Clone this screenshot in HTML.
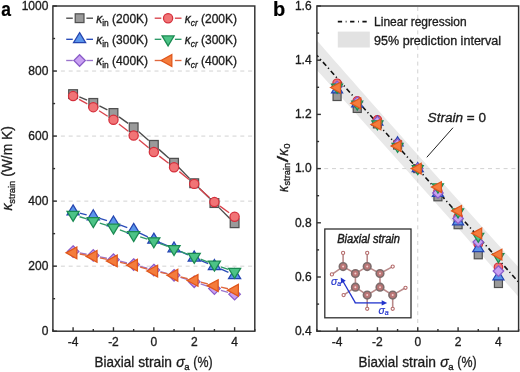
<!DOCTYPE html>
<html><head><meta charset="utf-8"><title>Strain thermal conductivity</title>
<style>html,body{margin:0;padding:0;background:#fff;width:520px;height:372px;overflow:hidden}svg{display:block}text{stroke:#1c1c1c;stroke-width:.32px}text.bl{stroke:#2233cc;stroke-width:.2px}text.pl{stroke:#000;stroke-width:.2px}</style>
</head><body>
<svg width="520" height="372" viewBox="0 0 520 372" font-family="'Liberation Sans', Arial, sans-serif">
<rect width="520" height="372" fill="#ffffff"/>
<line x1="52.9" y1="266.16" x2="254.8" y2="266.16" stroke="#d2d2d2" stroke-width="1" stroke-dasharray="4 3.8" stroke-dashoffset="-0.2"/>
<line x1="52.9" y1="201.12" x2="254.8" y2="201.12" stroke="#d2d2d2" stroke-width="1" stroke-dasharray="4 3.8" stroke-dashoffset="-0.2"/>
<line x1="52.9" y1="136.08" x2="254.8" y2="136.08" stroke="#d2d2d2" stroke-width="1" stroke-dasharray="4 3.8" stroke-dashoffset="-0.2"/>
<line x1="52.9" y1="71.04" x2="254.8" y2="71.04" stroke="#d2d2d2" stroke-width="1" stroke-dasharray="4 3.8" stroke-dashoffset="-0.2"/>
<line x1="79.33" y1="96.84" x2="87.04" y2="100.2" stroke="#4a4a4a" stroke-width="1.35"/><line x1="99.36" y1="105.95" x2="107.39" y2="109.95" stroke="#4a4a4a" stroke-width="1.35"/><line x1="119.02" y1="116.92" x2="128.11" y2="123.37" stroke="#4a4a4a" stroke-width="1.35"/><line x1="138.79" y1="131.76" x2="148.72" y2="140.4" stroke="#4a4a4a" stroke-width="1.35"/><line x1="158.94" y1="149.37" x2="168.95" y2="158.24" stroke="#4a4a4a" stroke-width="1.35"/><line x1="178.81" y1="167.59" x2="189.46" y2="178.39" stroke="#4a4a4a" stroke-width="1.35"/><line x1="199.08" y1="188" x2="209.57" y2="198.31" stroke="#4a4a4a" stroke-width="1.35"/><line x1="219.23" y1="207.88" x2="229.8" y2="218.43" stroke="#4a4a4a" stroke-width="1.35"/>
<line x1="79.05" y1="99.35" x2="87.32" y2="103.87" stroke="#d9434b" stroke-width="1.35"/><line x1="99.04" y1="110.75" x2="107.71" y2="116.2" stroke="#d9434b" stroke-width="1.35"/><line x1="118.85" y1="123.98" x2="128.28" y2="131.27" stroke="#d9434b" stroke-width="1.35"/><line x1="138.91" y1="139.75" x2="148.6" y2="147.7" stroke="#d9434b" stroke-width="1.35"/><line x1="159.27" y1="156.12" x2="168.62" y2="163.19" stroke="#d9434b" stroke-width="1.35"/><line x1="179.29" y1="171.62" x2="188.98" y2="179.57" stroke="#d9434b" stroke-width="1.35"/><line x1="199.28" y1="188.44" x2="209.37" y2="197.54" stroke="#d9434b" stroke-width="1.35"/><line x1="219.93" y1="206.09" x2="229.1" y2="212.74" stroke="#d9434b" stroke-width="1.35"/>
<line x1="79.7" y1="213.12" x2="86.67" y2="214.81" stroke="#2a4cb8" stroke-width="1.35"/><line x1="99.78" y1="218.39" x2="106.97" y2="220.59" stroke="#2a4cb8" stroke-width="1.35"/><line x1="119.85" y1="224.95" x2="127.28" y2="227.7" stroke="#2a4cb8" stroke-width="1.35"/><line x1="139.78" y1="233.02" x2="147.73" y2="236.86" stroke="#2a4cb8" stroke-width="1.35"/><line x1="160.09" y1="242.53" x2="167.8" y2="245.89" stroke="#2a4cb8" stroke-width="1.35"/><line x1="180.24" y1="251.39" x2="188.03" y2="254.91" stroke="#2a4cb8" stroke-width="1.35"/><line x1="200.5" y1="260.33" x2="208.15" y2="263.53" stroke="#2a4cb8" stroke-width="1.35"/><line x1="220.62" y1="268.96" x2="228.41" y2="272.47" stroke="#2a4cb8" stroke-width="1.35"/>
<line x1="79.59" y1="216.77" x2="86.78" y2="218.97" stroke="#2f9a68" stroke-width="1.35"/><line x1="99.75" y1="223.04" x2="107" y2="225.38" stroke="#2f9a68" stroke-width="1.35"/><line x1="119.85" y1="229.82" x2="127.28" y2="232.58" stroke="#2f9a68" stroke-width="1.35"/><line x1="140.16" y1="236.93" x2="147.35" y2="239.13" stroke="#2f9a68" stroke-width="1.35"/><line x1="160.19" y1="243.57" x2="167.7" y2="246.47" stroke="#2f9a68" stroke-width="1.35"/><line x1="180.38" y1="251.38" x2="187.89" y2="254.28" stroke="#2f9a68" stroke-width="1.35"/><line x1="200.57" y1="259.18" x2="208.08" y2="262.08" stroke="#2f9a68" stroke-width="1.35"/><line x1="220.83" y1="266.81" x2="228.2" y2="269.42" stroke="#2f9a68" stroke-width="1.35"/>
<line x1="79.77" y1="252.82" x2="86.6" y2="254.14" stroke="#9a74cc" stroke-width="1.35"/><line x1="99.94" y1="256.82" x2="106.81" y2="258.26" stroke="#9a74cc" stroke-width="1.35"/><line x1="120.08" y1="261.25" x2="127.05" y2="262.94" stroke="#9a74cc" stroke-width="1.35"/><line x1="140.22" y1="266.33" x2="147.29" y2="268.27" stroke="#9a74cc" stroke-width="1.35"/><line x1="160.43" y1="271.76" x2="167.46" y2="273.57" stroke="#9a74cc" stroke-width="1.35"/><line x1="180.51" y1="277.35" x2="187.76" y2="279.68" stroke="#9a74cc" stroke-width="1.35"/><line x1="200.67" y1="283.95" x2="207.98" y2="286.42" stroke="#9a74cc" stroke-width="1.35"/><line x1="220.98" y1="290.39" x2="228.05" y2="292.33" stroke="#9a74cc" stroke-width="1.35"/>
<line x1="79.79" y1="254.01" x2="86.58" y2="255.22" stroke="#e0683e" stroke-width="1.35"/><line x1="99.91" y1="257.9" x2="106.84" y2="259.46" stroke="#e0683e" stroke-width="1.35"/><line x1="120.13" y1="262.35" x2="127" y2="263.79" stroke="#e0683e" stroke-width="1.35"/><line x1="140.19" y1="267.08" x2="147.32" y2="269.14" stroke="#e0683e" stroke-width="1.35"/><line x1="160.51" y1="272.43" x2="167.38" y2="273.87" stroke="#e0683e" stroke-width="1.35"/><line x1="180.62" y1="276.96" x2="187.65" y2="278.77" stroke="#e0683e" stroke-width="1.35"/><line x1="200.81" y1="282.17" x2="207.84" y2="283.98" stroke="#e0683e" stroke-width="1.35"/><line x1="221.05" y1="287.17" x2="227.98" y2="288.73" stroke="#e0683e" stroke-width="1.35"/>
<rect x="68.72" y="89.76" width="8.74" height="8.74" fill="#9a9a9a" stroke="#505050" stroke-width="1.25"/>
<rect x="88.91" y="98.54" width="8.74" height="8.74" fill="#9a9a9a" stroke="#505050" stroke-width="1.25"/>
<rect x="109.1" y="108.62" width="8.74" height="8.74" fill="#9a9a9a" stroke="#505050" stroke-width="1.25"/>
<rect x="129.29" y="122.93" width="8.74" height="8.74" fill="#9a9a9a" stroke="#505050" stroke-width="1.25"/>
<rect x="149.48" y="140.49" width="8.74" height="8.74" fill="#9a9a9a" stroke="#505050" stroke-width="1.25"/>
<rect x="169.67" y="158.38" width="8.74" height="8.74" fill="#9a9a9a" stroke="#505050" stroke-width="1.25"/>
<rect x="189.86" y="178.87" width="8.74" height="8.74" fill="#9a9a9a" stroke="#505050" stroke-width="1.25"/>
<rect x="210.05" y="198.7" width="8.74" height="8.74" fill="#9a9a9a" stroke="#505050" stroke-width="1.25"/>
<rect x="230.24" y="218.87" width="8.74" height="8.74" fill="#9a9a9a" stroke="#505050" stroke-width="1.25"/>
<circle cx="73.09" cy="96.08" r="4.61" fill="#f17476" stroke="#d4303c" stroke-width="1.25"/>
<circle cx="93.28" cy="107.14" r="4.61" fill="#f17476" stroke="#d4303c" stroke-width="1.25"/>
<circle cx="113.47" cy="119.82" r="4.61" fill="#f17476" stroke="#d4303c" stroke-width="1.25"/>
<circle cx="133.66" cy="135.43" r="4.61" fill="#f17476" stroke="#d4303c" stroke-width="1.25"/>
<circle cx="153.85" cy="152.01" r="4.61" fill="#f17476" stroke="#d4303c" stroke-width="1.25"/>
<circle cx="174.04" cy="167.3" r="4.61" fill="#f17476" stroke="#d4303c" stroke-width="1.25"/>
<circle cx="194.23" cy="183.88" r="4.61" fill="#f17476" stroke="#d4303c" stroke-width="1.25"/>
<circle cx="214.42" cy="202.1" r="4.61" fill="#f17476" stroke="#d4303c" stroke-width="1.25"/>
<circle cx="234.61" cy="216.73" r="4.61" fill="#f17476" stroke="#d4303c" stroke-width="1.25"/>
<polygon points="73.09,204.9 79.14,214.89 67.04,214.89" fill="#5b95ea" stroke="#2444b0" stroke-width="1.25" stroke-linejoin="miter"/>
<polygon points="93.28,209.78 99.33,219.76 87.23,219.76" fill="#5b95ea" stroke="#2444b0" stroke-width="1.25" stroke-linejoin="miter"/>
<polygon points="113.47,215.96 119.52,225.94 107.42,225.94" fill="#5b95ea" stroke="#2444b0" stroke-width="1.25" stroke-linejoin="miter"/>
<polygon points="133.66,223.44 139.71,233.42 127.61,233.42" fill="#5b95ea" stroke="#2444b0" stroke-width="1.25" stroke-linejoin="miter"/>
<polygon points="153.85,233.19 159.9,243.18 147.8,243.18" fill="#5b95ea" stroke="#2444b0" stroke-width="1.25" stroke-linejoin="miter"/>
<polygon points="174.04,241.98 180.09,251.96 167.99,251.96" fill="#5b95ea" stroke="#2444b0" stroke-width="1.25" stroke-linejoin="miter"/>
<polygon points="194.23,251.08 200.28,261.06 188.18,261.06" fill="#5b95ea" stroke="#2444b0" stroke-width="1.25" stroke-linejoin="miter"/>
<polygon points="214.42,259.54 220.47,269.52 208.37,269.52" fill="#5b95ea" stroke="#2444b0" stroke-width="1.25" stroke-linejoin="miter"/>
<polygon points="234.61,268.64 240.66,278.63 228.56,278.63" fill="#5b95ea" stroke="#2444b0" stroke-width="1.25" stroke-linejoin="miter"/>
<polygon points="73.09,221.4 79.14,211.42 67.04,211.42" fill="#4cc386" stroke="#1b8a52" stroke-width="1.25" stroke-linejoin="miter"/>
<polygon points="93.28,227.58 99.33,217.6 87.23,217.6" fill="#4cc386" stroke="#1b8a52" stroke-width="1.25" stroke-linejoin="miter"/>
<polygon points="113.47,234.09 119.52,224.1 107.42,224.1" fill="#4cc386" stroke="#1b8a52" stroke-width="1.25" stroke-linejoin="miter"/>
<polygon points="133.66,241.56 139.71,231.58 127.61,231.58" fill="#4cc386" stroke="#1b8a52" stroke-width="1.25" stroke-linejoin="miter"/>
<polygon points="153.85,247.74 159.9,237.76 147.8,237.76" fill="#4cc386" stroke="#1b8a52" stroke-width="1.25" stroke-linejoin="miter"/>
<polygon points="174.04,255.55 180.09,245.56 167.99,245.56" fill="#4cc386" stroke="#1b8a52" stroke-width="1.25" stroke-linejoin="miter"/>
<polygon points="194.23,263.35 200.28,253.37 188.18,253.37" fill="#4cc386" stroke="#1b8a52" stroke-width="1.25" stroke-linejoin="miter"/>
<polygon points="214.42,271.16 220.47,261.17 208.37,261.17" fill="#4cc386" stroke="#1b8a52" stroke-width="1.25" stroke-linejoin="miter"/>
<polygon points="234.61,278.31 240.66,268.33 228.56,268.33" fill="#4cc386" stroke="#1b8a52" stroke-width="1.25" stroke-linejoin="miter"/>
<polygon points="73.09,245.77 78.85,251.53 73.09,257.29 67.33,251.53" fill="#c9a0f2" stroke="#8a5cc8" stroke-width="1.25" stroke-linejoin="miter"/>
<polygon points="93.28,249.67 99.04,255.43 93.28,261.19 87.52,255.43" fill="#c9a0f2" stroke="#8a5cc8" stroke-width="1.25" stroke-linejoin="miter"/>
<polygon points="113.47,253.9 119.23,259.66 113.47,265.42 107.71,259.66" fill="#c9a0f2" stroke="#8a5cc8" stroke-width="1.25" stroke-linejoin="miter"/>
<polygon points="133.66,258.77 139.42,264.53 133.66,270.29 127.9,264.53" fill="#c9a0f2" stroke="#8a5cc8" stroke-width="1.25" stroke-linejoin="miter"/>
<polygon points="153.85,264.3 159.61,270.06 153.85,275.82 148.09,270.06" fill="#c9a0f2" stroke="#8a5cc8" stroke-width="1.25" stroke-linejoin="miter"/>
<polygon points="174.04,269.51 179.8,275.27 174.04,281.03 168.28,275.27" fill="#c9a0f2" stroke="#8a5cc8" stroke-width="1.25" stroke-linejoin="miter"/>
<polygon points="194.23,276.01 199.99,281.77 194.23,287.53 188.47,281.77" fill="#c9a0f2" stroke="#8a5cc8" stroke-width="1.25" stroke-linejoin="miter"/>
<polygon points="214.42,282.84 220.18,288.6 214.42,294.36 208.66,288.6" fill="#c9a0f2" stroke="#8a5cc8" stroke-width="1.25" stroke-linejoin="miter"/>
<polygon points="234.61,288.37 240.37,294.13 234.61,299.89 228.85,294.13" fill="#c9a0f2" stroke="#8a5cc8" stroke-width="1.25" stroke-linejoin="miter"/>
<polygon points="65.99,252.83 76.83,246.97 76.83,258.68" fill="#f47c3c" stroke="#e0561a" stroke-width="1.25" stroke-linejoin="miter"/>
<polygon points="86.18,256.4 97.02,250.55 97.02,262.26" fill="#f47c3c" stroke="#e0561a" stroke-width="1.25" stroke-linejoin="miter"/>
<polygon points="106.37,260.96 117.21,255.1 117.21,266.81" fill="#f47c3c" stroke="#e0561a" stroke-width="1.25" stroke-linejoin="miter"/>
<polygon points="126.56,265.18 137.4,259.33 137.4,271.04" fill="#f47c3c" stroke="#e0561a" stroke-width="1.25" stroke-linejoin="miter"/>
<polygon points="146.75,271.04 157.59,265.18 157.59,276.89" fill="#f47c3c" stroke="#e0561a" stroke-width="1.25" stroke-linejoin="miter"/>
<polygon points="166.94,275.27 177.78,269.41 177.78,281.12" fill="#f47c3c" stroke="#e0561a" stroke-width="1.25" stroke-linejoin="miter"/>
<polygon points="187.13,280.47 197.97,274.61 197.97,286.32" fill="#f47c3c" stroke="#e0561a" stroke-width="1.25" stroke-linejoin="miter"/>
<polygon points="207.32,285.67 218.16,279.82 218.16,291.53" fill="#f47c3c" stroke="#e0561a" stroke-width="1.25" stroke-linejoin="miter"/>
<polygon points="227.51,290.22 238.35,284.37 238.35,296.08" fill="#f47c3c" stroke="#e0561a" stroke-width="1.25" stroke-linejoin="miter"/>
<rect x="52.9" y="6" width="201.9" height="325.2" fill="none" stroke="#303030" stroke-width="1.45"/>
<line x1="52.9" y1="331.2" x2="56.9" y2="331.2" stroke="#303030" stroke-width="1.4"/>
<line x1="52.9" y1="298.68" x2="55.1" y2="298.68" stroke="#303030" stroke-width="1.4"/>
<line x1="52.9" y1="266.16" x2="56.9" y2="266.16" stroke="#303030" stroke-width="1.4"/>
<line x1="52.9" y1="233.64" x2="55.1" y2="233.64" stroke="#303030" stroke-width="1.4"/>
<line x1="52.9" y1="201.12" x2="56.9" y2="201.12" stroke="#303030" stroke-width="1.4"/>
<line x1="52.9" y1="168.6" x2="55.1" y2="168.6" stroke="#303030" stroke-width="1.4"/>
<line x1="52.9" y1="136.08" x2="56.9" y2="136.08" stroke="#303030" stroke-width="1.4"/>
<line x1="52.9" y1="103.56" x2="55.1" y2="103.56" stroke="#303030" stroke-width="1.4"/>
<line x1="52.9" y1="71.04" x2="56.9" y2="71.04" stroke="#303030" stroke-width="1.4"/>
<line x1="52.9" y1="38.52" x2="55.1" y2="38.52" stroke="#303030" stroke-width="1.4"/>
<line x1="52.9" y1="6" x2="56.9" y2="6" stroke="#303030" stroke-width="1.4"/>
<line x1="52.9" y1="331.2" x2="52.9" y2="329" stroke="#303030" stroke-width="1.4"/>
<line x1="73.09" y1="331.2" x2="73.09" y2="327.2" stroke="#303030" stroke-width="1.4"/>
<line x1="93.28" y1="331.2" x2="93.28" y2="329" stroke="#303030" stroke-width="1.4"/>
<line x1="113.47" y1="331.2" x2="113.47" y2="327.2" stroke="#303030" stroke-width="1.4"/>
<line x1="133.66" y1="331.2" x2="133.66" y2="329" stroke="#303030" stroke-width="1.4"/>
<line x1="153.85" y1="331.2" x2="153.85" y2="327.2" stroke="#303030" stroke-width="1.4"/>
<line x1="174.04" y1="331.2" x2="174.04" y2="329" stroke="#303030" stroke-width="1.4"/>
<line x1="194.23" y1="331.2" x2="194.23" y2="327.2" stroke="#303030" stroke-width="1.4"/>
<line x1="214.42" y1="331.2" x2="214.42" y2="329" stroke="#303030" stroke-width="1.4"/>
<line x1="234.61" y1="331.2" x2="234.61" y2="327.2" stroke="#303030" stroke-width="1.4"/>
<line x1="254.8" y1="331.2" x2="254.8" y2="329" stroke="#303030" stroke-width="1.4"/>
<text x="48.4" y="335" font-size="12" text-anchor="end" fill="#1c1c1c">0</text>
<text x="48.4" y="269.96" font-size="12" text-anchor="end" fill="#1c1c1c">200</text>
<text x="48.4" y="204.92" font-size="12" text-anchor="end" fill="#1c1c1c">400</text>
<text x="48.4" y="139.88" font-size="12" text-anchor="end" fill="#1c1c1c">600</text>
<text x="48.4" y="74.84" font-size="12" text-anchor="end" fill="#1c1c1c">800</text>
<text x="48.4" y="9.8" font-size="12" text-anchor="end" fill="#1c1c1c">1000</text>
<text x="73.09" y="346.1" font-size="12" text-anchor="middle" fill="#1c1c1c">-4</text>
<text x="113.47" y="346.1" font-size="12" text-anchor="middle" fill="#1c1c1c">-2</text>
<text x="153.85" y="346.1" font-size="12" text-anchor="middle" fill="#1c1c1c">0</text>
<text x="194.23" y="346.1" font-size="12" text-anchor="middle" fill="#1c1c1c">2</text>
<text x="234.61" y="346.1" font-size="12" text-anchor="middle" fill="#1c1c1c">4</text>
<text y="367.2" font-size="14" fill="#1c1c1c"><tspan x="94.6" textLength="39.6" lengthAdjust="spacingAndGlyphs">Biaxial</tspan> <tspan x="138.2" textLength="33.8" lengthAdjust="spacingAndGlyphs">strain</tspan> <tspan x="176.3" font-style="italic">σ</tspan><tspan x="184.2" font-size="9.6" dy="3.2">a</tspan> <tspan x="193.3" dy="-3.2" textLength="19.3" lengthAdjust="spacingAndGlyphs">(%)</tspan></text>
<text transform="translate(12.3,210.6) rotate(-90)" font-size="14" textLength="84.5" lengthAdjust="spacingAndGlyphs" fill="#1c1c1c"><tspan font-style="italic">κ</tspan><tspan font-size="9.5" dy="2.6">strain</tspan><tspan dy="-2.6"> (W/m K)</tspan></text>
<text x="1.2" y="16" font-size="20" font-weight="bold" class="pl" fill="#000" textLength="9.7" lengthAdjust="spacingAndGlyphs">a</text>
<line x1="66.2" y1="18.2" x2="72.8" y2="18.2" stroke="#4a4a4a" stroke-width="1.35"/>
<line x1="86.4" y1="18.2" x2="93" y2="18.2" stroke="#4a4a4a" stroke-width="1.35"/>
<rect x="75.23" y="13.83" width="8.74" height="8.74" fill="#9a9a9a" stroke="#505050" stroke-width="1.25"/>
<text x="96.2" y="22.8" font-size="12" fill="#1c1c1c"><tspan font-style="italic">κ</tspan><tspan font-size="8.4" dy="3.3">in</tspan><tspan dy="-3.3"> (200K)</tspan></text>
<line x1="154.7" y1="18.2" x2="161.3" y2="18.2" stroke="#d9434b" stroke-width="1.35"/>
<line x1="174.9" y1="18.2" x2="181.5" y2="18.2" stroke="#d9434b" stroke-width="1.35"/>
<circle cx="168.1" cy="18.2" r="4.61" fill="#f17476" stroke="#d4303c" stroke-width="1.25"/>
<text x="184.7" y="22.8" font-size="12" fill="#1c1c1c"><tspan font-style="italic">κ</tspan><tspan font-size="8.4" dy="3.3" font-style="italic">cr</tspan><tspan dy="-3.3"> (200K)</tspan></text>
<line x1="66.2" y1="39.3" x2="72.8" y2="39.3" stroke="#2a4cb8" stroke-width="1.35"/>
<line x1="86.4" y1="39.3" x2="93" y2="39.3" stroke="#2a4cb8" stroke-width="1.35"/>
<polygon points="79.6,32.68 85.65,42.66 73.55,42.66" fill="#5b95ea" stroke="#2444b0" stroke-width="1.25" stroke-linejoin="miter"/>
<text x="96.2" y="43.9" font-size="12" fill="#1c1c1c"><tspan font-style="italic">κ</tspan><tspan font-size="8.4" dy="3.3">in</tspan><tspan dy="-3.3"> (300K)</tspan></text>
<line x1="154.7" y1="39.3" x2="161.3" y2="39.3" stroke="#2f9a68" stroke-width="1.35"/>
<line x1="174.9" y1="39.3" x2="181.5" y2="39.3" stroke="#2f9a68" stroke-width="1.35"/>
<polygon points="168.1,45.92 174.15,35.94 162.05,35.94" fill="#4cc386" stroke="#1b8a52" stroke-width="1.25" stroke-linejoin="miter"/>
<text x="184.7" y="43.9" font-size="12" fill="#1c1c1c"><tspan font-style="italic">κ</tspan><tspan font-size="8.4" dy="3.3" font-style="italic">cr</tspan><tspan dy="-3.3"> (300K)</tspan></text>
<line x1="66.2" y1="60.5" x2="72.8" y2="60.5" stroke="#9a74cc" stroke-width="1.35"/>
<line x1="86.4" y1="60.5" x2="93" y2="60.5" stroke="#9a74cc" stroke-width="1.35"/>
<polygon points="79.6,54.74 85.36,60.5 79.6,66.26 73.84,60.5" fill="#c9a0f2" stroke="#8a5cc8" stroke-width="1.25" stroke-linejoin="miter"/>
<text x="96.2" y="65.1" font-size="12" fill="#1c1c1c"><tspan font-style="italic">κ</tspan><tspan font-size="8.4" dy="3.3">in</tspan><tspan dy="-3.3"> (400K)</tspan></text>
<line x1="154.7" y1="60.5" x2="161.3" y2="60.5" stroke="#e0683e" stroke-width="1.35"/>
<line x1="174.9" y1="60.5" x2="181.5" y2="60.5" stroke="#e0683e" stroke-width="1.35"/>
<polygon points="161,60.5 171.84,54.64 171.84,66.36" fill="#f47c3c" stroke="#e0561a" stroke-width="1.25" stroke-linejoin="miter"/>
<text x="184.7" y="65.1" font-size="12" fill="#1c1c1c"><tspan font-style="italic">κ</tspan><tspan font-size="8.4" dy="3.3" font-style="italic">cr</tspan><tspan dy="-3.3"> (400K)</tspan></text>
<clipPath id="cb"><rect x="316.9" y="6" width="201.7" height="325.2"/></clipPath>
<g clip-path="url(#cb)">
<polygon points="316.9,40.52 320.93,45.12 324.97,49.72 329,54.32 333.04,58.91 337.07,63.5 341.1,68.09 345.14,72.68 349.17,77.26 353.21,81.84 357.24,86.42 361.27,91 365.31,95.57 369.34,100.14 373.38,104.71 377.41,109.27 381.44,113.84 385.48,118.4 389.51,122.95 393.55,127.51 397.58,132.06 401.61,136.61 405.65,141.16 409.68,145.7 413.72,150.24 417.75,154.78 421.78,159.31 425.82,163.85 429.85,168.38 433.89,172.9 437.92,177.43 441.95,181.95 445.99,186.47 450.02,190.98 454.06,195.5 458.09,200.01 462.12,204.51 466.16,209.02 470.19,213.52 474.23,218.02 478.26,222.52 482.29,227.01 486.33,231.5 490.36,235.99 494.4,240.48 498.43,244.96 502.46,249.44 506.5,253.92 510.53,258.4 514.57,262.87 518.6,267.35 518.6,296.95 514.57,292.35 510.53,287.75 506.5,283.16 502.46,278.56 498.43,273.97 494.4,269.38 490.36,264.79 486.33,260.21 482.29,255.63 478.26,251.05 474.23,246.47 470.19,241.9 466.16,237.33 462.12,232.76 458.09,228.2 454.06,223.63 450.02,219.07 445.99,214.52 441.95,209.96 437.92,205.41 433.89,200.86 429.85,196.31 425.82,191.77 421.78,187.23 417.75,182.69 413.72,178.16 409.68,173.62 405.65,169.09 401.61,164.57 397.58,160.04 393.55,155.52 389.51,151 385.48,146.49 381.44,141.98 377.41,137.47 373.38,132.96 369.34,128.45 365.31,123.95 361.27,119.45 357.24,114.95 353.21,110.46 349.17,105.97 345.14,101.48 341.1,96.99 337.07,92.51 333.04,88.03 329,83.55 324.97,79.07 320.93,74.6 316.9,70.13" fill="#e8e8e8"/>
</g>
<line x1="316.9" y1="168.6" x2="518.6" y2="168.6" stroke="#d2d2d2" stroke-width="1" stroke-dasharray="4 3.8" stroke-dashoffset="0.5"/>
<line x1="417.75" y1="6" x2="417.75" y2="331.2" stroke="#d2d2d2" stroke-width="1" stroke-dasharray="4 3.8" stroke-dashoffset="-1"/>
<g clip-path="url(#cb)">
<line x1="316.9" y1="55.32" x2="518.6" y2="282.15" stroke="#111" stroke-width="1.6" stroke-dasharray="5 2.76 1.2 2.91" stroke-dashoffset="2.8"/>
</g>
<rect x="333.07" y="92.51" width="8.01" height="8.01" fill="#9a9a9a" stroke="#505050" stroke-width="1.2"/>
<rect x="353.24" y="104.43" width="8.01" height="8.01" fill="#9a9a9a" stroke="#505050" stroke-width="1.2"/>
<rect x="373.41" y="119.88" width="8.01" height="8.01" fill="#9a9a9a" stroke="#505050" stroke-width="1.2"/>
<rect x="393.58" y="141.02" width="8.01" height="8.01" fill="#9a9a9a" stroke="#505050" stroke-width="1.2"/>
<rect x="413.75" y="164.6" width="8.01" height="8.01" fill="#9a9a9a" stroke="#505050" stroke-width="1.2"/>
<rect x="433.92" y="192.78" width="8.01" height="8.01" fill="#9a9a9a" stroke="#505050" stroke-width="1.2"/>
<rect x="454.09" y="220.69" width="8.01" height="8.01" fill="#9a9a9a" stroke="#505050" stroke-width="1.2"/>
<rect x="474.26" y="250.77" width="8.01" height="8.01" fill="#9a9a9a" stroke="#505050" stroke-width="1.2"/>
<rect x="494.43" y="279.5" width="8.01" height="8.01" fill="#9a9a9a" stroke="#505050" stroke-width="1.2"/>
<circle cx="337.07" cy="83.24" r="4.22" fill="#f17476" stroke="#d4303c" stroke-width="1.2"/>
<circle cx="357.24" cy="100.85" r="4.22" fill="#f17476" stroke="#d4303c" stroke-width="1.2"/>
<circle cx="377.41" cy="119.82" r="4.22" fill="#f17476" stroke="#d4303c" stroke-width="1.2"/>
<circle cx="397.58" cy="143.4" r="4.22" fill="#f17476" stroke="#d4303c" stroke-width="1.2"/>
<circle cx="417.75" cy="168.6" r="4.22" fill="#f17476" stroke="#d4303c" stroke-width="1.2"/>
<circle cx="437.92" cy="191.63" r="4.22" fill="#f17476" stroke="#d4303c" stroke-width="1.2"/>
<circle cx="458.09" cy="216.84" r="4.22" fill="#f17476" stroke="#d4303c" stroke-width="1.2"/>
<circle cx="478.26" cy="244.21" r="4.22" fill="#f17476" stroke="#d4303c" stroke-width="1.2"/>
<circle cx="498.43" cy="267.24" r="4.22" fill="#f17476" stroke="#d4303c" stroke-width="1.2"/>
<polygon points="337.07,83.67 342.61,92.82 331.53,92.82" fill="#5b95ea" stroke="#2444b0" stroke-width="1.2" stroke-linejoin="miter"/>
<polygon points="357.24,97.76 362.78,106.91 351.7,106.91" fill="#5b95ea" stroke="#2444b0" stroke-width="1.2" stroke-linejoin="miter"/>
<polygon points="377.41,115.92 382.95,125.07 371.87,125.07" fill="#5b95ea" stroke="#2444b0" stroke-width="1.2" stroke-linejoin="miter"/>
<polygon points="397.58,136.78 403.12,145.94 392.04,145.94" fill="#5b95ea" stroke="#2444b0" stroke-width="1.2" stroke-linejoin="miter"/>
<polygon points="417.75,162.53 423.29,171.68 412.21,171.68" fill="#5b95ea" stroke="#2444b0" stroke-width="1.2" stroke-linejoin="miter"/>
<polygon points="437.92,187.19 443.46,196.34 432.38,196.34" fill="#5b95ea" stroke="#2444b0" stroke-width="1.2" stroke-linejoin="miter"/>
<polygon points="458.09,215.64 463.63,224.8 452.55,224.8" fill="#5b95ea" stroke="#2444b0" stroke-width="1.2" stroke-linejoin="miter"/>
<polygon points="478.26,242.47 483.8,251.63 472.72,251.63" fill="#5b95ea" stroke="#2444b0" stroke-width="1.2" stroke-linejoin="miter"/>
<polygon points="498.43,270.66 503.97,279.81 492.89,279.81" fill="#5b95ea" stroke="#2444b0" stroke-width="1.2" stroke-linejoin="miter"/>
<polygon points="337.07,81.21 342.35,86.49 337.07,91.77 331.79,86.49" fill="#c9a0f2" stroke="#8a5cc8" stroke-width="1.2" stroke-linejoin="miter"/>
<polygon points="357.24,96.92 362.52,102.2 357.24,107.48 351.96,102.2" fill="#c9a0f2" stroke="#8a5cc8" stroke-width="1.2" stroke-linejoin="miter"/>
<polygon points="377.41,116.44 382.69,121.72 377.41,127 372.13,121.72" fill="#c9a0f2" stroke="#8a5cc8" stroke-width="1.2" stroke-linejoin="miter"/>
<polygon points="397.58,138.93 402.86,144.21 397.58,149.49 392.3,144.21" fill="#c9a0f2" stroke="#8a5cc8" stroke-width="1.2" stroke-linejoin="miter"/>
<polygon points="417.75,163.32 423.03,168.6 417.75,173.88 412.47,168.6" fill="#c9a0f2" stroke="#8a5cc8" stroke-width="1.2" stroke-linejoin="miter"/>
<polygon points="437.92,187.71 443.2,192.99 437.92,198.27 432.64,192.99" fill="#c9a0f2" stroke="#8a5cc8" stroke-width="1.2" stroke-linejoin="miter"/>
<polygon points="458.09,213.18 463.37,218.46 458.09,223.74 452.81,218.46" fill="#c9a0f2" stroke="#8a5cc8" stroke-width="1.2" stroke-linejoin="miter"/>
<polygon points="478.26,236.76 483.54,242.04 478.26,247.32 472.98,242.04" fill="#c9a0f2" stroke="#8a5cc8" stroke-width="1.2" stroke-linejoin="miter"/>
<polygon points="498.43,265.76 503.71,271.04 498.43,276.32 493.15,271.04" fill="#c9a0f2" stroke="#8a5cc8" stroke-width="1.2" stroke-linejoin="miter"/>
<polygon points="337.07,93.37 342.61,84.22 331.53,84.22" fill="#4cc386" stroke="#1b8a52" stroke-width="1.2" stroke-linejoin="miter"/>
<polygon points="357.24,110.17 362.78,101.02 351.7,101.02" fill="#4cc386" stroke="#1b8a52" stroke-width="1.2" stroke-linejoin="miter"/>
<polygon points="377.41,129.96 382.95,120.8 371.87,120.8" fill="#4cc386" stroke="#1b8a52" stroke-width="1.2" stroke-linejoin="miter"/>
<polygon points="397.58,152.45 403.12,143.3 392.04,143.3" fill="#4cc386" stroke="#1b8a52" stroke-width="1.2" stroke-linejoin="miter"/>
<polygon points="417.75,174.67 423.29,165.52 412.21,165.52" fill="#4cc386" stroke="#1b8a52" stroke-width="1.2" stroke-linejoin="miter"/>
<polygon points="437.92,193.1 443.46,183.95 432.38,183.95" fill="#4cc386" stroke="#1b8a52" stroke-width="1.2" stroke-linejoin="miter"/>
<polygon points="458.09,218.03 463.63,208.88 452.55,208.88" fill="#4cc386" stroke="#1b8a52" stroke-width="1.2" stroke-linejoin="miter"/>
<polygon points="478.26,242.42 483.8,233.27 472.72,233.27" fill="#4cc386" stroke="#1b8a52" stroke-width="1.2" stroke-linejoin="miter"/>
<polygon points="498.43,262.75 503.97,253.59 492.89,253.59" fill="#4cc386" stroke="#1b8a52" stroke-width="1.2" stroke-linejoin="miter"/>
<polygon points="330.56,87.57 340.5,82.2 340.5,92.94" fill="#f47c3c" stroke="#e0561a" stroke-width="1.2" stroke-linejoin="miter"/>
<polygon points="350.73,103.29 360.67,97.92 360.67,108.66" fill="#f47c3c" stroke="#e0561a" stroke-width="1.2" stroke-linejoin="miter"/>
<polygon points="370.9,124.43 380.84,119.06 380.84,129.79" fill="#f47c3c" stroke="#e0561a" stroke-width="1.2" stroke-linejoin="miter"/>
<polygon points="391.07,146.11 401.01,140.74 401.01,151.48" fill="#f47c3c" stroke="#e0561a" stroke-width="1.2" stroke-linejoin="miter"/>
<polygon points="411.24,168.6 421.18,163.23 421.18,173.97" fill="#f47c3c" stroke="#e0561a" stroke-width="1.2" stroke-linejoin="miter"/>
<polygon points="431.41,187.03 441.35,181.66 441.35,192.4" fill="#f47c3c" stroke="#e0561a" stroke-width="1.2" stroke-linejoin="miter"/>
<polygon points="451.58,210.88 461.52,205.51 461.52,216.24" fill="#f47c3c" stroke="#e0561a" stroke-width="1.2" stroke-linejoin="miter"/>
<polygon points="471.75,233.37 481.69,228 481.69,238.74" fill="#f47c3c" stroke="#e0561a" stroke-width="1.2" stroke-linejoin="miter"/>
<polygon points="491.92,254.51 501.86,249.14 501.86,259.88" fill="#f47c3c" stroke="#e0561a" stroke-width="1.2" stroke-linejoin="miter"/>
<rect x="316.9" y="6" width="201.7" height="325.2" fill="none" stroke="#303030" stroke-width="1.45"/>
<line x1="316.9" y1="331.2" x2="320.9" y2="331.2" stroke="#303030" stroke-width="1.4"/>
<line x1="316.9" y1="304.1" x2="319.1" y2="304.1" stroke="#303030" stroke-width="1.4"/>
<line x1="316.9" y1="277" x2="320.9" y2="277" stroke="#303030" stroke-width="1.4"/>
<line x1="316.9" y1="249.9" x2="319.1" y2="249.9" stroke="#303030" stroke-width="1.4"/>
<line x1="316.9" y1="222.8" x2="320.9" y2="222.8" stroke="#303030" stroke-width="1.4"/>
<line x1="316.9" y1="195.7" x2="319.1" y2="195.7" stroke="#303030" stroke-width="1.4"/>
<line x1="316.9" y1="168.6" x2="320.9" y2="168.6" stroke="#303030" stroke-width="1.4"/>
<line x1="316.9" y1="141.5" x2="319.1" y2="141.5" stroke="#303030" stroke-width="1.4"/>
<line x1="316.9" y1="114.4" x2="320.9" y2="114.4" stroke="#303030" stroke-width="1.4"/>
<line x1="316.9" y1="87.3" x2="319.1" y2="87.3" stroke="#303030" stroke-width="1.4"/>
<line x1="316.9" y1="60.2" x2="320.9" y2="60.2" stroke="#303030" stroke-width="1.4"/>
<line x1="316.9" y1="33.1" x2="319.1" y2="33.1" stroke="#303030" stroke-width="1.4"/>
<line x1="316.9" y1="6" x2="320.9" y2="6" stroke="#303030" stroke-width="1.4"/>
<line x1="316.9" y1="331.2" x2="316.9" y2="329" stroke="#303030" stroke-width="1.4"/>
<line x1="337.07" y1="331.2" x2="337.07" y2="327.2" stroke="#303030" stroke-width="1.4"/>
<line x1="357.24" y1="331.2" x2="357.24" y2="329" stroke="#303030" stroke-width="1.4"/>
<line x1="377.41" y1="331.2" x2="377.41" y2="327.2" stroke="#303030" stroke-width="1.4"/>
<line x1="397.58" y1="331.2" x2="397.58" y2="329" stroke="#303030" stroke-width="1.4"/>
<line x1="417.75" y1="331.2" x2="417.75" y2="327.2" stroke="#303030" stroke-width="1.4"/>
<line x1="437.92" y1="331.2" x2="437.92" y2="329" stroke="#303030" stroke-width="1.4"/>
<line x1="458.09" y1="331.2" x2="458.09" y2="327.2" stroke="#303030" stroke-width="1.4"/>
<line x1="478.26" y1="331.2" x2="478.26" y2="329" stroke="#303030" stroke-width="1.4"/>
<line x1="498.43" y1="331.2" x2="498.43" y2="327.2" stroke="#303030" stroke-width="1.4"/>
<line x1="518.6" y1="331.2" x2="518.6" y2="329" stroke="#303030" stroke-width="1.4"/>
<text x="311.6" y="335" font-size="12" text-anchor="end" fill="#1c1c1c">0.4</text>
<text x="311.6" y="280.8" font-size="12" text-anchor="end" fill="#1c1c1c">0.6</text>
<text x="311.6" y="226.6" font-size="12" text-anchor="end" fill="#1c1c1c">0.8</text>
<text x="311.6" y="172.4" font-size="12" text-anchor="end" fill="#1c1c1c">1.0</text>
<text x="311.6" y="118.2" font-size="12" text-anchor="end" fill="#1c1c1c">1.2</text>
<text x="311.6" y="64" font-size="12" text-anchor="end" fill="#1c1c1c">1.4</text>
<text x="311.6" y="9.8" font-size="12" text-anchor="end" fill="#1c1c1c">1.6</text>
<text x="337.07" y="346.1" font-size="12" text-anchor="middle" fill="#1c1c1c">-4</text>
<text x="377.41" y="346.1" font-size="12" text-anchor="middle" fill="#1c1c1c">-2</text>
<text x="417.75" y="346.1" font-size="12" text-anchor="middle" fill="#1c1c1c">0</text>
<text x="458.09" y="346.1" font-size="12" text-anchor="middle" fill="#1c1c1c">2</text>
<text x="498.43" y="346.1" font-size="12" text-anchor="middle" fill="#1c1c1c">4</text>
<text y="367.2" font-size="14" fill="#1c1c1c"><tspan x="358.6" textLength="39.6" lengthAdjust="spacingAndGlyphs">Biaxial</tspan> <tspan x="402.2" textLength="33.8" lengthAdjust="spacingAndGlyphs">strain</tspan> <tspan x="440.3" font-style="italic">σ</tspan><tspan x="448.2" font-size="9.6" dy="3.2">a</tspan> <tspan x="457.3" dy="-3.2" textLength="19.3" lengthAdjust="spacingAndGlyphs">(%)</tspan></text>
<text transform="translate(287.6,191.9) rotate(-90)" font-size="14" fill="#1c1c1c"><tspan x="0" font-style="italic" textLength="6.2" lengthAdjust="spacingAndGlyphs">κ</tspan><tspan x="6.4" font-size="9.6" dy="2.7" textLength="22.6" lengthAdjust="spacingAndGlyphs">strain</tspan><tspan x="29.6" dy="-2.7" textLength="6.4" lengthAdjust="spacingAndGlyphs">/</tspan><tspan x="36.2" font-style="italic" textLength="6.6" lengthAdjust="spacingAndGlyphs">κ</tspan><tspan x="43.1" font-size="9.6" dy="2.7">0</tspan></text>
<text x="273" y="16" font-size="20" font-weight="bold" class="pl" fill="#000">b</text>
<line x1="337.8" y1="21.6" x2="368" y2="21.6" stroke="#111" stroke-width="1.6" stroke-dasharray="4.3 3.6 0.8 3.6"/>
<rect x="337.8" y="31.6" width="32" height="15.9" fill="#e2e2e2"/>
<text x="374.1" y="26.3" font-size="12.3" textLength="92.5" lengthAdjust="spacingAndGlyphs" fill="#1c1c1c">Linear regression</text>
<text x="374.1" y="44.8" font-size="12.3" textLength="127" lengthAdjust="spacingAndGlyphs" fill="#1c1c1c">95% prediction interval</text>
<text x="427.6" y="121.8" font-size="13.4" textLength="58.4" lengthAdjust="spacingAndGlyphs" fill="#1c1c1c"><tspan font-style="italic">Strain</tspan> = 0</text>
<line x1="453" y1="127.7" x2="426.8" y2="157.3" stroke="#222" stroke-width="1"/>
<rect x="324.8" y="229" width="86.2" height="88.8" fill="#ffffff" stroke="#303030" stroke-width="1.3"/>
<text x="337.2" y="243.1" font-size="12" font-style="italic" fill="#1c1c1c" style="stroke-width:.45px" textLength="62.8" lengthAdjust="spacingAndGlyphs">Biaxial strain</text>
<line x1="343.1" y1="266.6" x2="355.4" y2="273.5" stroke="#b98a8a" stroke-width="1.6"/>
<line x1="367.2" y1="266.6" x2="355.4" y2="273.5" stroke="#b98a8a" stroke-width="1.6"/>
<line x1="367.2" y1="266.6" x2="380" y2="273.5" stroke="#b98a8a" stroke-width="1.6"/>
<line x1="380" y1="273.5" x2="380" y2="287.2" stroke="#b98a8a" stroke-width="1.6"/>
<line x1="380" y1="287.2" x2="367.2" y2="295.1" stroke="#b98a8a" stroke-width="1.6"/>
<line x1="367.2" y1="295.1" x2="355.4" y2="287.2" stroke="#b98a8a" stroke-width="1.6"/>
<line x1="355.4" y1="287.2" x2="355.4" y2="273.5" stroke="#b98a8a" stroke-width="1.6"/>
<line x1="380" y1="287.2" x2="392.7" y2="295.1" stroke="#b98a8a" stroke-width="1.6"/>
<line x1="343.1" y1="252.9" x2="343.1" y2="266.6" stroke="#b98a8a" stroke-width="1.6"/>
<line x1="367.2" y1="252.9" x2="367.2" y2="266.6" stroke="#b98a8a" stroke-width="1.6"/>
<line x1="331.9" y1="274.4" x2="343.1" y2="266.6" stroke="#b98a8a" stroke-width="1.6"/>
<line x1="392.7" y1="266.6" x2="380" y2="273.5" stroke="#b98a8a" stroke-width="1.6"/>
<line x1="343.6" y1="295.1" x2="355.4" y2="287.2" stroke="#b98a8a" stroke-width="1.6"/>
<line x1="405.5" y1="287.8" x2="392.7" y2="295.1" stroke="#b98a8a" stroke-width="1.6"/>
<line x1="367.2" y1="308.8" x2="367.2" y2="295.1" stroke="#b98a8a" stroke-width="1.6"/>
<line x1="392.7" y1="308.8" x2="392.7" y2="295.1" stroke="#b98a8a" stroke-width="1.6"/>
<circle cx="343.1" cy="266.6" r="3.8" fill="#bb7676" stroke="#7d6c6c" stroke-width="1.6"/>
<circle cx="343.1" cy="266.6" r="1" fill="#f4d0d0"/>
<circle cx="367.2" cy="266.6" r="3.8" fill="#bb7676" stroke="#7d6c6c" stroke-width="1.6"/>
<circle cx="367.2" cy="266.6" r="1" fill="#f4d0d0"/>
<circle cx="355.4" cy="273.5" r="3.8" fill="#bb7676" stroke="#7d6c6c" stroke-width="1.6"/>
<circle cx="355.4" cy="273.5" r="1" fill="#f4d0d0"/>
<circle cx="380" cy="273.5" r="3.8" fill="#bb7676" stroke="#7d6c6c" stroke-width="1.6"/>
<circle cx="380" cy="273.5" r="1" fill="#f4d0d0"/>
<circle cx="355.4" cy="287.2" r="3.8" fill="#bb7676" stroke="#7d6c6c" stroke-width="1.6"/>
<circle cx="355.4" cy="287.2" r="1" fill="#f4d0d0"/>
<circle cx="380" cy="287.2" r="3.8" fill="#bb7676" stroke="#7d6c6c" stroke-width="1.6"/>
<circle cx="380" cy="287.2" r="1" fill="#f4d0d0"/>
<circle cx="367.2" cy="295.1" r="3.8" fill="#bb7676" stroke="#7d6c6c" stroke-width="1.6"/>
<circle cx="367.2" cy="295.1" r="1" fill="#f4d0d0"/>
<circle cx="392.7" cy="295.1" r="3.8" fill="#bb7676" stroke="#7d6c6c" stroke-width="1.6"/>
<circle cx="392.7" cy="295.1" r="1" fill="#f4d0d0"/>
<circle cx="343.1" cy="252.9" r="1.6" fill="#ffffff" stroke="#b46a6a" stroke-width="1.1"/>
<circle cx="367.2" cy="252.9" r="1.6" fill="#ffffff" stroke="#b46a6a" stroke-width="1.1"/>
<circle cx="331.9" cy="274.4" r="1.6" fill="#ffffff" stroke="#b46a6a" stroke-width="1.1"/>
<circle cx="392.7" cy="266.6" r="1.6" fill="#ffffff" stroke="#b46a6a" stroke-width="1.1"/>
<circle cx="343.6" cy="295.1" r="1.6" fill="#ffffff" stroke="#b46a6a" stroke-width="1.1"/>
<circle cx="405.5" cy="287.8" r="1.6" fill="#ffffff" stroke="#b46a6a" stroke-width="1.1"/>
<circle cx="367.2" cy="308.8" r="1.6" fill="#ffffff" stroke="#b46a6a" stroke-width="1.1"/>
<circle cx="392.7" cy="308.8" r="1.6" fill="#ffffff" stroke="#b46a6a" stroke-width="1.1"/>
<line x1="355.4" y1="302.9" x2="342.95" y2="281.3" stroke="#2233cc" stroke-width="1.3"/>
<polygon points="340.7,277.4 345.79,280.82 341.11,283.51" fill="#2233cc"/>
<line x1="354.8" y1="302.9" x2="382.2" y2="302.9" stroke="#2233cc" stroke-width="1.3"/>
<polygon points="387.2,302.9 381.7,300.2 381.7,305.6" fill="#2233cc"/>
<text x="331" y="284.6" font-size="10.5" font-style="italic" class="bl" fill="#2233cc">σ<tspan font-size="7" dy="1.8">a</tspan></text>
<text x="378.4" y="313.6" font-size="10.5" font-style="italic" class="bl" fill="#2233cc">σ<tspan font-size="7" dy="1.8">a</tspan></text>
</svg>
</body></html>
